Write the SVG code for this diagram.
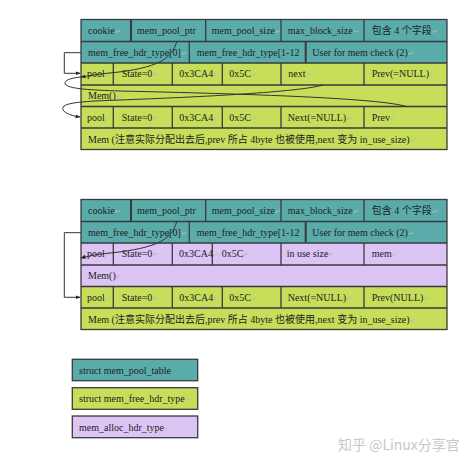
<svg xmlns="http://www.w3.org/2000/svg" width="474" height="467" viewBox="0 0 474 467">
<defs>
<style>
.t{fill:#5aacab}
.g{fill:#c6de5a}
.p{fill:#dcc4f4}
.c{stroke:#3a3a3a;stroke-width:1.3}
.d{stroke:#3a3a3a;stroke-width:1.3;fill:none}
text{font-family:"Liberation Serif","Noto Sans CJK SC",serif;font-size:10px;fill:#222}
.m{fill:#bbb;font-size:7px}
.w{font-family:"Noto Sans CJK SC","Liberation Sans",sans-serif;font-size:14px;fill:#c8c8c8}
.ln{fill:none;stroke:#333;stroke-width:1}
</style>
<marker id="ah" viewBox="0 0 10 10" refX="9" refY="5" markerWidth="5" markerHeight="5" orient="auto"><path d="M0,1 L10,5 L0,9 z" fill="#222"/></marker>
</defs>
<rect width="474" height="467" fill="#fff"/>

<g id="table1">
<rect class="t" x="81" y="19.5" width="366" height="43.5"/>
<rect class="g" x="81" y="63" width="366" height="86.5"/>
<g class="c">
<rect x="81" y="19.5" width="366" height="130" fill="none"/>
<line x1="81" y1="41.5" x2="447" y2="41.5"/>
<line x1="81" y1="63" x2="447" y2="63"/>
<line x1="81" y1="85" x2="447" y2="85"/>
<line x1="81" y1="106.5" x2="447" y2="106.5"/>
<line x1="81" y1="128" x2="447" y2="128"/>
<line x1="131" y1="19.5" x2="131" y2="41.5" stroke-width="2"/>
<line x1="205.7" y1="19.5" x2="205.7" y2="41.5"/>
<line x1="281" y1="19.5" x2="281" y2="41.5"/>
<line x1="364" y1="19.5" x2="364" y2="41.5"/>
<line x1="189.3" y1="41.5" x2="189.3" y2="63"/>
<line x1="305.7" y1="41.5" x2="305.7" y2="63" stroke-width="2"/>
<line x1="113.3" y1="63" x2="113.3" y2="85"/>
<line x1="172.3" y1="63" x2="172.3" y2="85"/>
<line x1="222.3" y1="63" x2="222.3" y2="85"/>
<line x1="281" y1="63" x2="281" y2="85"/>
<line x1="364" y1="63" x2="364" y2="85"/>
<line x1="113.3" y1="106.5" x2="113.3" y2="128"/>
<line x1="172.3" y1="106.5" x2="172.3" y2="128"/>
<line x1="222.3" y1="106.5" x2="222.3" y2="128"/>
<line x1="281" y1="106.5" x2="281" y2="128"/>
<line x1="364" y1="106.5" x2="364" y2="128"/>
</g>
<text x="88" y="34">cookie<tspan class="m">↵</tspan></text>
<text x="137" y="34">mem_pool_ptr</text>
<text x="211.7" y="34">mem_pool_size<tspan class="m">↵</tspan></text>
<text x="287.7" y="34">max_block_size<tspan class="m">↵</tspan></text>
<text x="371.7" y="34">包含 4 个字段<tspan class="m">↵</tspan></text>
<text x="88" y="56">mem_free_hdr_type[0]<tspan class="m">↵</tspan></text>
<text x="196.7" y="56">mem_free_hdr_type[1-12</text>
<text x="312.3" y="56">User for mem check (2)<tspan class="m">↵</tspan></text>
<text x="87" y="77">pool<tspan class="m">↵</tspan></text>
<text x="121.7" y="77">State=0<tspan class="m">↵</tspan></text>
<text x="179.3" y="77">0x3CA4<tspan class="m">↵</tspan></text>
<text x="229.3" y="77">0x5C<tspan class="m">↵</tspan></text>
<text x="288.3" y="77">next<tspan class="m">↵</tspan></text>
<text x="371.7" y="77">Prev(=NULL)<tspan class="m">↵</tspan></text>
<text x="88" y="99">Mem()<tspan class="m">↵</tspan></text>
<text x="87" y="121">pool<tspan class="m">↵</tspan></text>
<text x="121.7" y="121">State=0<tspan class="m">↵</tspan></text>
<text x="179.3" y="121">0x3CA4<tspan class="m">↵</tspan></text>
<text x="229.3" y="121">0x5C<tspan class="m">↵</tspan></text>
<text x="287.7" y="121">Next(=NULL)<tspan class="m">↵</tspan></text>
<text x="371.7" y="121">Prev<tspan class="m">↵</tspan></text>
<text x="88" y="143">Mem (注意实际分配出去后,prev 所占 4byte 也被使用,next 变为 in_use_size)<tspan class="m">↵</tspan></text>
</g>

<g id="table2">
<rect class="t" x="81" y="199.5" width="366" height="43.5"/>
<rect class="p" x="81" y="243" width="366" height="43.5"/>
<rect class="g" x="81" y="286.5" width="366" height="43"/>
<g class="c">
<rect x="81" y="199.5" width="366" height="130" fill="none"/>
<line x1="81" y1="221.5" x2="447" y2="221.5"/>
<line x1="81" y1="243" x2="447" y2="243"/>
<line x1="81" y1="265" x2="447" y2="265"/>
<line x1="81" y1="286.5" x2="447" y2="286.5"/>
<line x1="81" y1="308" x2="447" y2="308"/>
<line x1="131" y1="199.5" x2="131" y2="221.5" stroke-width="2"/>
<line x1="205.7" y1="199.5" x2="205.7" y2="221.5"/>
<line x1="281" y1="199.5" x2="281" y2="221.5"/>
<line x1="364" y1="199.5" x2="364" y2="221.5"/>
<line x1="189.3" y1="221.5" x2="189.3" y2="243"/>
<line x1="305.7" y1="221.5" x2="305.7" y2="243" stroke-width="2"/>
<line x1="113.3" y1="243" x2="113.3" y2="265"/>
<line x1="172.3" y1="243" x2="172.3" y2="265"/>
<line x1="212.3" y1="243" x2="212.3" y2="265"/>
<line x1="281" y1="243" x2="281" y2="265"/>
<line x1="364" y1="243" x2="364" y2="265"/>
<line x1="113.3" y1="286.5" x2="113.3" y2="308"/>
<line x1="172.3" y1="286.5" x2="172.3" y2="308"/>
<line x1="222.3" y1="286.5" x2="222.3" y2="308"/>
<line x1="281" y1="286.5" x2="281" y2="308"/>
<line x1="364" y1="286.5" x2="364" y2="308"/>
</g>
<text x="88" y="214">cookie<tspan class="m">↵</tspan></text>
<text x="137" y="214">mem_pool_ptr</text>
<text x="211.7" y="214">mem_pool_size<tspan class="m">↵</tspan></text>
<text x="287.7" y="214">max_block_size<tspan class="m">↵</tspan></text>
<text x="371.7" y="214">包含 4 个字段<tspan class="m">↵</tspan></text>
<text x="88" y="236">mem_free_hdr_type[0]<tspan class="m">↵</tspan></text>
<text x="196.7" y="236">mem_free_hdr_type[1-12</text>
<text x="312.3" y="236">User for mem check (2)<tspan class="m">↵</tspan></text>
<text x="87" y="257">pool<tspan class="m">↵</tspan></text>
<text x="121.7" y="257">State=0<tspan class="m">↵</tspan></text>
<text x="179" y="257">0x3CA4<tspan class="m">↵</tspan></text>
<text x="221.7" y="257">0x5C<tspan class="m">↵</tspan></text>
<text x="286.7" y="257">in use size<tspan class="m">↵</tspan></text>
<text x="371.7" y="257">mem<tspan class="m">↵</tspan></text>
<text x="88" y="279">Mem()<tspan class="m">↵</tspan></text>
<text x="87" y="301">pool<tspan class="m">↵</tspan></text>
<text x="121.7" y="301">State=0<tspan class="m">↵</tspan></text>
<text x="179.3" y="301">0x3CA4<tspan class="m">↵</tspan></text>
<text x="229.3" y="301">0x5C<tspan class="m">↵</tspan></text>
<text x="287.7" y="301">Next(=NULL)<tspan class="m">↵</tspan></text>
<text x="371.7" y="301">Prev(NULL)<tspan class="m">↵</tspan></text>
<text x="88" y="323">Mem (注意实际分配出去后,prev 所占 4byte 也被使用,next 变为 in_use_size)<tspan class="m">↵</tspan></text>
</g>

<g id="legend-pool-table">
<rect class="t c" x="72.3" y="359.3" width="125.4" height="21.4"/>
<text x="79" y="373.5">struct mem_pool_table</text>
</g>
<g id="legend-free-hdr">
<rect class="g c" x="72.3" y="387.7" width="125.4" height="21.6"/>
<text x="79" y="402">struct mem_free_hdr_type<tspan class="m">↵</tspan></text>
</g>
<g id="legend-alloc-hdr">
<rect class="p c" x="72.3" y="416" width="125.4" height="21.7"/>
<text x="79" y="430.5">mem_alloc_hdr_type<tspan class="m">↵</tspan></text>
</g>

<g id="connectors">
<polyline class="ln" points="81,52.7 64.3,52.7 64.3,73.3 80,73.3" marker-end="url(#ah)"/>
<path class="ln" d="M176.7,41.7 C172,58 160,68 110,73 C98,74 88,76 81,77" marker-end="url(#ah)"/>
<path class="ln" d="M323,85 C300,92 200,97 120,100 C90,101 70,102 64,106 C60,110 66,115 80,117" marker-end="url(#ah)"/>
<path class="ln" d="M407,106.7 C380,98 250,94 120,91 C90,90 72,89 66,85 C62,81 70,78 81,77"/>
<polyline class="ln" points="81,232.7 64.3,232.7 64.3,297.3 80,297.3" marker-end="url(#ah)"/>
<path class="ln" d="M176.7,221.7 C172,238 160,248 110,253 C98,254 88,256 81,258" marker-end="url(#ah)"/>
</g>

<text class="w" x="338" y="450">知乎 @Linux分享官</text>
</svg>
